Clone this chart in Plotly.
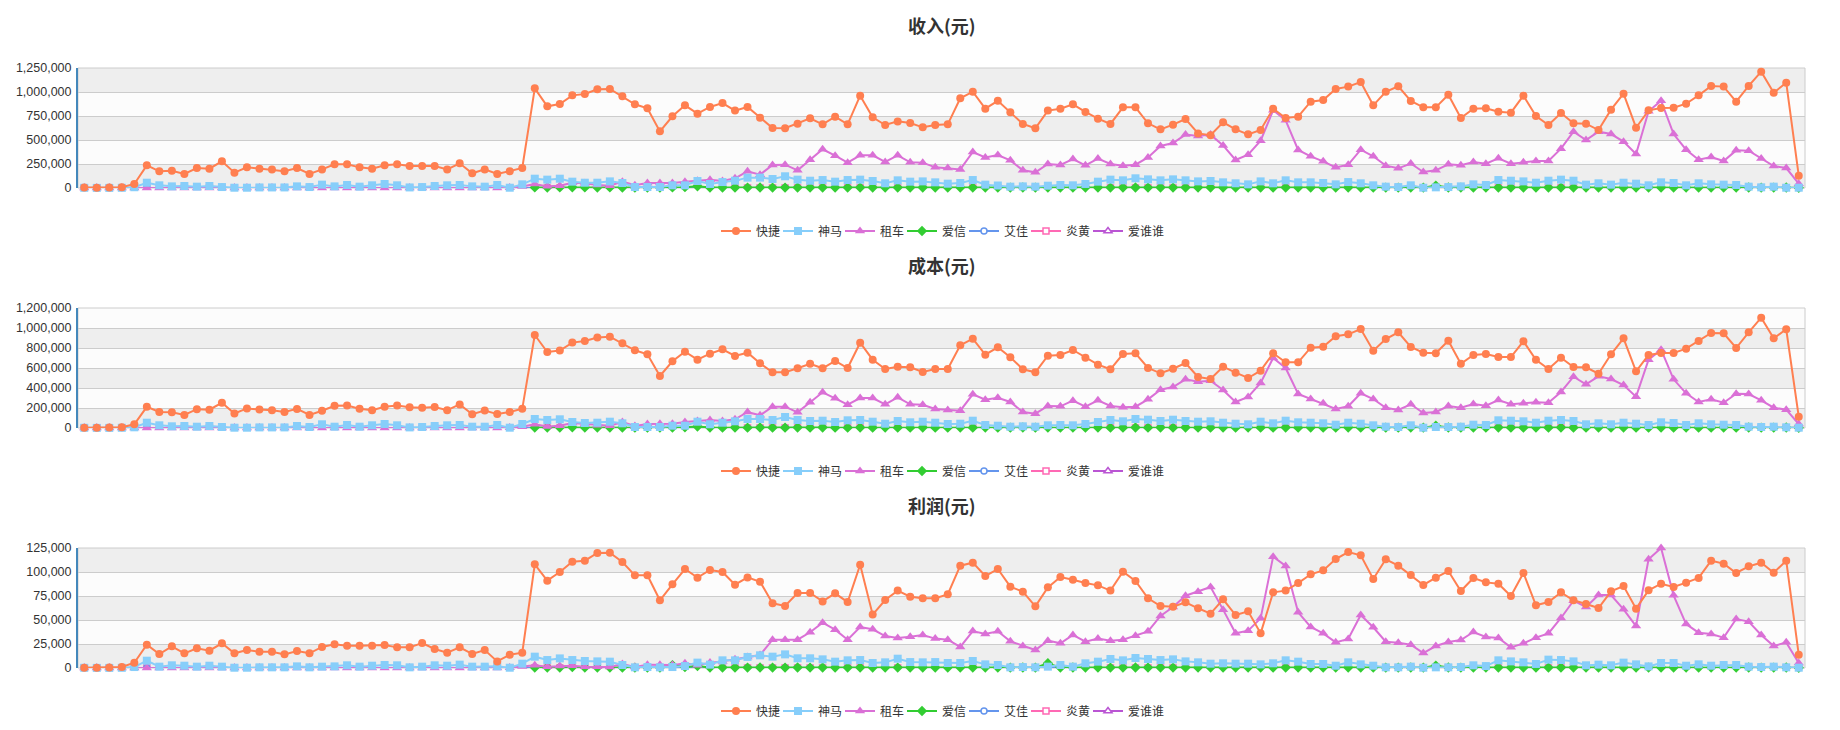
import plotly.graph_objects as go

# ---------------- data ----------------
series_names = ["快捷", "神马", "租车", "爱信", "艾佳", "炎黄", "爱谁谁"]
chart_titles = ["收入(元)", "成本(元)", "利润(元)"]

# 收入
rev_kuaijie = [
    5000, 3000, 4000, 8000, 42000, 236000, 174000, 180000, 146000, 208000,
    201000, 278000, 160000, 215000, 201000, 194000, 174000, 208000, 146000, 194000,
    247000, 247000, 215000, 201000, 236000, 247000, 229000, 229000, 229000, 194000,
    257000, 153000, 194000, 146000, 174000, 208000, 1038000, 851000, 875000, 965000,
    979000, 1028000, 1031000, 955000, 872000, 830000, 590000, 747000, 861000, 774000,
    844000, 885000, 806000, 844000, 733000, 625000, 622000, 670000, 726000, 663000,
    743000, 663000, 962000, 736000, 656000, 694000, 677000, 632000, 656000, 663000,
    934000, 1003000, 826000, 908000, 788000, 667000, 622000, 806000, 826000, 872000,
    792000, 722000, 667000, 840000, 840000, 674000, 611000, 660000, 719000, 569000,
    549000, 684000, 611000, 559000, 604000, 826000, 729000, 743000, 899000, 917000,
    1031000, 1056000, 1104000, 861000, 1003000, 1060000, 907000, 840000, 840000, 972000,
    729000, 826000, 830000, 795000, 785000, 962000, 750000, 656000, 781000, 674000,
    670000, 604000, 816000, 983000, 628000, 809000, 833000, 837000, 878000, 965000,
    1063000, 1056000, 899000, 1063000, 1212000, 993000, 1097000, 128000,
]
rev_shenma = [
    2000, 1000, 1000, 2000, 8000, 55000, 28000, 17000, 21000, 14000,
    21000, 10000, 3000, 3000, 6000, 6000, 6000, 17000, 10000, 35000,
    17000, 31000, 14000, 28000, 42000, 28000, 6000, 10000, 21000, 28000,
    31000, 17000, 14000, 31000, 3000, 38000, 97000, 87000, 97000, 66000,
    55000, 55000, 69000, 52000, 10000, 10000, 10000, 28000, 28000, 73000,
    42000, 62000, 76000, 108000, 108000, 94000, 122000, 87000, 76000, 83000,
    66000, 83000, 87000, 73000, 49000, 80000, 66000, 69000, 59000, 45000,
    52000, 83000, 35000, 26000, 14000, 17000, 14000, 24000, 31000, 28000,
    42000, 66000, 87000, 80000, 101000, 90000, 80000, 90000, 80000, 69000,
    73000, 59000, 49000, 38000, 69000, 49000, 80000, 59000, 59000, 52000,
    38000, 62000, 49000, 28000, 14000, 10000, 28000, 3000, 7000, 10000,
    17000, 38000, 31000, 83000, 76000, 69000, 55000, 76000, 87000, 76000,
    35000, 49000, 35000, 55000, 45000, 28000, 59000, 52000, 28000, 49000,
    38000, 35000, 31000, 14000, 7000, 14000, 3000, 3000,
]
rev_zuche = [
    0, 0, 0, 0, 0, 0, 0, 0, 0, 0,
    0, 0, 0, 0, 0, 0, 0, 0, 0, 0,
    0, 0, 0, 0, 0, 0, 0, 0, 0, 0,
    0, 0, 0, 0, 3000, 15000, 42000, 17000, 24000, 55000,
    49000, 30000, 24000, 66000, 28000, 52000, 52000, 52000, 66000, 76000,
    87000, 73000, 101000, 174000, 139000, 240000, 243000, 184000, 295000, 403000,
    337000, 264000, 340000, 340000, 271000, 340000, 267000, 264000, 215000, 208000,
    194000, 375000, 319000, 344000, 288000, 184000, 163000, 250000, 240000, 302000,
    236000, 306000, 250000, 233000, 243000, 319000, 438000, 469000, 556000, 542000,
    556000, 444000, 292000, 347000, 493000, 809000, 705000, 396000, 330000, 278000,
    215000, 243000, 399000, 330000, 233000, 205000, 255000, 167000, 184000, 247000,
    236000, 271000, 253000, 309000, 253000, 267000, 281000, 281000, 410000, 587000,
    500000, 587000, 562000, 483000, 354000, 799000, 910000, 562000, 399000, 295000,
    323000, 281000, 392000, 389000, 306000, 229000, 208000, 45000,
]
rev_aixin = [
    None, None, None, None, None, None, None, None, None, None,
    None, None, None, None, None, None, None, None, None, None,
    None, None, None, None, None, None, None, None, None, None,
    None, None, None, None, None, None, 6000, 5000, 6000, 8000,
    6000, 5000, 6000, 5000, 4000, 4000, 5000, 6000, 9000, 17000,
    5000, 4000, 5000, 4000, 5000, 4000, 4000, 5000, 4000, 5000,
    4000, 4000, 5000, 4000, 5000, 4000, 4000, 5000, 4000, 4000,
    5000, 4000, 5000, 4000, 4000, 5000, 4000, 5000, 4000, 5000,
    4000, 5000, 4000, 4000, 5000, 4000, 5000, 4000, 5000, 4000,
    4000, 5000, 4000, 5000, 4000, 4000, 5000, 4000, 5000, 4000,
    4000, 5000, 4000, 5000, 4000, 4000, 5000, 4000, 25000, 5000,
    4000, 5000, 4000, 5000, 4000, 4000, 5000, 4000, 5000, 4000,
    4000, 5000, 4000, 5000, 4000, 4000, 5000, 4000, 5000, 4000,
    4000, 5000, 4000, 5000, 4000, 4000, 5000, 2000,
]

# 成本
cost_kuaijie = [
    3000, 2000, 4000, 7000, 37000, 212000, 160000, 158000, 131000, 188000,
    183000, 252000, 145000, 196000, 184000, 177000, 160000, 191000, 131000, 172000,
    222000, 224000, 192000, 178000, 212000, 226000, 208000, 203000, 209000, 178000,
    236000, 138000, 175000, 139000, 160000, 192000, 930000, 760000, 775000, 854000,
    870000, 905000, 913000, 847000, 777000, 737000, 520000, 667000, 763000, 683000,
    743000, 787000, 720000, 753000, 647000, 557000, 557000, 597000, 643000, 597000,
    670000, 600000, 853000, 683000, 590000, 613000, 607000, 560000, 590000, 590000,
    827000, 893000, 733000, 807000, 707000, 587000, 557000, 723000, 730000, 780000,
    703000, 633000, 587000, 740000, 747000, 600000, 547000, 593000, 650000, 510000,
    490000, 613000, 553000, 500000, 573000, 747000, 657000, 657000, 803000, 813000,
    917000, 937000, 990000, 773000, 890000, 957000, 810000, 753000, 747000, 873000,
    643000, 730000, 740000, 710000, 710000, 867000, 683000, 590000, 703000, 610000,
    607000, 543000, 737000, 897000, 567000, 730000, 750000, 750000, 793000, 870000,
    950000, 947000, 800000, 957000, 1103000, 897000, 987000, 113000,
]
cost_shenma = [
    2000, 1000, 1000, 2000, 7000, 53000, 27000, 17000, 20000, 13000,
    20000, 10000, 3000, 3000, 6000, 6000, 6000, 20000, 10000, 37000,
    13000, 30000, 13000, 27000, 40000, 27000, 6000, 10000, 20000, 27000,
    30000, 13000, 13000, 30000, 3000, 40000, 90000, 80000, 87000, 60000,
    50000, 53000, 63000, 47000, 10000, 10000, 10000, 23000, 23000, 63000,
    37000, 53000, 67000, 90000, 90000, 80000, 110000, 80000, 70000, 73000,
    60000, 77000, 80000, 63000, 43000, 70000, 57000, 63000, 53000, 40000,
    43000, 73000, 30000, 23000, 13000, 17000, 13000, 27000, 30000, 27000,
    40000, 60000, 80000, 67000, 90000, 83000, 70000, 83000, 70000, 63000,
    67000, 53000, 43000, 37000, 63000, 47000, 73000, 57000, 53000, 47000,
    33000, 53000, 43000, 27000, 13000, 10000, 27000, 3000, 10000, 10000,
    13000, 33000, 30000, 77000, 73000, 67000, 53000, 73000, 80000, 70000,
    37000, 47000, 37000, 53000, 43000, 30000, 57000, 50000, 30000, 47000,
    37000, 33000, 30000, 13000, 10000, 13000, 7000, 3000,
]
cost_zuche = [
    0, 0, 0, 0, 0, 0, 0, 0, 0, 0,
    0, 0, 0, 0, 0, 0, 0, 0, 0, 0,
    0, 0, 0, 0, 0, 0, 0, 0, 0, 0,
    0, 0, 0, 0, 3000, 13000, 38000, 15000, 22000, 50000,
    40000, 27000, 23000, 60000, 20000, 40000, 43000, 43000, 60000, 70000,
    80000, 70000, 87000, 160000, 127000, 213000, 213000, 157000, 257000, 357000,
    297000, 233000, 300000, 300000, 237000, 307000, 237000, 233000, 190000, 180000,
    173000, 337000, 283000, 303000, 260000, 160000, 143000, 220000, 217000, 273000,
    213000, 277000, 220000, 207000, 213000, 287000, 383000, 410000, 487000, 463000,
    473000, 380000, 260000, 310000, 450000, 700000, 600000, 340000, 290000, 247000,
    190000, 217000, 347000, 290000, 203000, 180000, 237000, 150000, 160000, 220000,
    203000, 240000, 223000, 280000, 237000, 247000, 257000, 253000, 360000, 513000,
    437000, 517000, 490000, 430000, 313000, 683000, 783000, 487000, 347000, 260000,
    287000, 253000, 343000, 340000, 277000, 203000, 183000, 40000,
]
cost_aixin = [
    None, None, None, None, None, None, None, None, None, None,
    None, None, None, None, None, None, None, None, None, None,
    None, None, None, None, None, None, None, None, None, None,
    None, None, None, None, None, None, 5500, 4500, 5500, 7000,
    5500, 4500, 5500, 4500, 3600, 3600, 4500, 5500, 8000, 15000,
    4500, 3600, 4500, 3600, 4500, 3600, 3600, 4500, 3600, 4500,
    3600, 3600, 4500, 3600, 4500, 3600, 3600, 4500, 3600, 3600,
    4500, 3600, 4500, 3600, 3600, 4500, 3600, 4500, 3600, 4500,
    3600, 4500, 3600, 3600, 4500, 3600, 4500, 3600, 4500, 3600,
    3600, 4500, 3600, 4500, 3600, 3600, 4500, 3600, 4500, 3600,
    3600, 4500, 3600, 4500, 3600, 3600, 4500, 3600, 22000, 4500,
    3600, 4500, 3600, 4500, 3600, 3600, 4500, 3600, 4500, 3600,
    3600, 4500, 3600, 4500, 3600, 3600, 4500, 3600, 4500, 3600,
    3600, 4500, 3600, 4500, 3600, 3600, 4500, 1800,
]

# 利润
profit_kuaijie = [
    300, 300, 500, 1000, 5500, 24300, 14600, 22600, 15300, 20500,
    18000, 25700, 15300, 18700, 17000, 17000, 14200, 17700, 15300, 21900,
    24700, 23300, 23300, 23300, 24000, 21500, 21500, 26000, 19800, 16000,
    21500, 14600, 18700, 6900, 13900, 16000, 108000, 91000, 100000, 110800,
    111800, 119800, 120100, 110400, 96500, 96500, 70500, 87200, 103100, 94100,
    102100, 100000, 86800, 94400, 89900, 67400, 64600, 78100, 78100, 69400,
    77800, 68700, 107600, 55600, 70800, 80600, 74300, 72600, 72600, 76700,
    106600, 109700, 95800, 103100, 84700, 79500, 64200, 84000, 94800, 92000,
    88500, 86100, 80600, 100300, 90600, 72600, 64600, 63900, 68400, 62200,
    56600, 71500, 55200, 59000, 36100, 78800, 80600, 88500, 97600, 101700,
    113500, 120800, 117400, 92700, 113200, 106600, 96900, 86500, 94100, 101000,
    80200, 93800, 89200, 87800, 75000, 99000, 65300, 68700, 78800, 70500,
    66700, 62500, 79900, 85400, 61800, 80900, 87800, 84400, 88900, 93800,
    111800, 108700, 99000, 105900, 109700, 99300, 111800, 13900,
]
profit_shenma = [
    200, 100, 100, 200, 1000, 7600, 1400, 2800, 2400, 1400,
    2400, 1400, 300, 300, 700, 700, 700, 1700, 700, 1400,
    1700, 2800, 1400, 2400, 3100, 2800, 700, 1400, 2800, 2400,
    3500, 1400, 1400, 1700, 300, 4500, 11800, 8300, 10000, 8300,
    7300, 6900, 6600, 3100, 700, 1000, 700, 1000, 2000, 5600,
    3500, 8000, 8000, 11500, 13200, 11800, 14200, 10100, 10100, 9000,
    6600, 8000, 8300, 5200, 5900, 9700, 6200, 5900, 6200, 5200,
    5200, 7300, 3800, 3100, 700, 1000, 700, 1400, 3100, 1400,
    4900, 6600, 9400, 8000, 10400, 9400, 8300, 9000, 6900, 5900,
    4500, 4900, 4500, 4500, 3800, 4900, 8000, 6600, 4200, 4200,
    2400, 5900, 3800, 2400, 700, 700, 1400, 300, 700, 700,
    1000, 2800, 2000, 8000, 6900, 5900, 4200, 8700, 8300, 6900,
    2800, 3500, 2800, 5600, 3800, 1700, 5200, 5200, 2400, 3800,
    2400, 3100, 3100, 1400, 1000, 1400, 700, 300,
]
profit_zuche = [
    0, 0, 0, 0, 0, 0, 0, 0, 0, 0,
    0, 0, 0, 0, 0, 0, 0, 0, 0, 0,
    0, 0, 0, 0, 0, 0, 0, 0, 0, 0,
    0, 0, 0, 0, 200, 1500, 2800, 1400, 2000, 2400,
    1400, 1400, 1000, 4200, 1000, 3500, 3500, 3000, 4900, 2800,
    5600, 6900, 9000, 11500, 13500, 29500, 29500, 29500, 37200, 47200,
    39900, 29500, 42700, 40300, 33300, 31200, 32600, 34400, 30600, 29500,
    21900, 38500, 35400, 38200, 27800, 22900, 18700, 28500, 25700, 34400,
    27400, 30600, 28500, 29500, 33700, 38200, 54200, 63500, 75300, 79500,
    84400, 60800, 36100, 38900, 51700, 116000, 106300, 58000, 42700, 36100,
    26700, 30200, 55200, 42400, 27400, 26400, 24300, 15600, 22900, 27100,
    29200, 37500, 32300, 31200, 21500, 25700, 31600, 36100, 52100, 70100,
    63500, 76000, 76000, 61100, 43700, 113200, 125000, 75700, 45800, 36800,
    35400, 31600, 51000, 48300, 34400, 22900, 26700, 5200,
]
profit_aixin = [
    None, None, None, None, None, None, None, None, None, None,
    None, None, None, None, None, None, None, None, None, None,
    None, None, None, None, None, None, None, None, None, None,
    None, None, None, None, None, None, 500, 500, 500, 1000,
    500, 500, 500, 500, 400, 400, 500, 3000, 1000, 2000,
    500, 400, 500, 400, 500, 400, 400, 500, 400, 500,
    400, 400, 500, 400, 500, 400, 400, 500, 400, 400,
    500, 400, 500, 400, 400, 500, 400, 5000, 400, 500,
    400, 500, 400, 400, 500, 400, 500, 400, 500, 400,
    400, 500, 400, 500, 400, 400, 500, 400, 500, 400,
    400, 500, 400, 500, 400, 400, 500, 400, 2500, 500,
    400, 500, 400, 500, 400, 400, 500, 400, 500, 400,
    400, 500, 400, 500, 400, 400, 500, 400, 500, 400,
    400, 500, 400, 500, 400, 400, 500, 200,
]
# 艾佳 / 炎黄 / 爱谁谁 stay at zero for the whole period
zero_series = [
    0, 0, 0, 0, 0, 0, 0, 0, 0, 0, 0, 0, 0, 0, 0, 0, 0, 0, 0, 0,
    0, 0, 0, 0, 0, 0, 0, 0, 0, 0, 0, 0, 0, 0, 0, 0, 0, 0, 0, 0,
    0, 0, 0, 0, 0, 0, 0, 0, 0, 0, 0, 0, 0, 0, 0, 0, 0, 0, 0, 0,
    0, 0, 0, 0, 0, 0, 0, 0, 0, 0, 0, 0, 0, 0, 0, 0, 0, 0, 0, 0,
    0, 0, 0, 0, 0, 0, 0, 0, 0, 0, 0, 0, 0, 0, 0, 0, 0, 0, 0, 0,
    0, 0, 0, 0, 0, 0, 0, 0, 0, 0, 0, 0, 0, 0, 0, 0, 0, 0, 0, 0,
    0, 0, 0, 0, 0, 0, 0, 0, 0, 0, 0, 0, 0, 0, 0, 0, 0, 0,
]

y_max = [1250000, 1200000, 125000]
y_step = [250000, 200000, 25000]

charts = [
    [rev_kuaijie, rev_shenma, rev_zuche, rev_aixin, zero_series, zero_series, zero_series],
    [cost_kuaijie, cost_shenma, cost_zuche, cost_aixin, zero_series, zero_series, zero_series],
    [profit_kuaijie, profit_shenma, profit_zuche, profit_aixin, zero_series, zero_series, zero_series],
]

# ---------------- styling ----------------
W, H = 1840, 730
colors = ["#ff7f50", "#87cefa", "#da70d6", "#32cd32", "#6495ed", "#ff69b4", "#ba55d3"]
symbols = ["circle", "square", "triangle-up", "diamond", "circle", "square", "triangle-up"]
filled = [True, True, True, True, False, False, False]
sizes = [8, 8, 9, 8, 6, 6, 7]
legend_widths = [17, 17, 17, 17, 17, 17, 40]
FONT = "Microsoft YaHei, Noto Sans CJK SC, sans-serif"
TICKFONT = "Arial, Liberation Sans, sans-serif"

plot_left, plot_right = 78, 1805
plot_tops = [68, 308, 548]
plot_h = 120
title_y = [25, 265, 505]
legend_y = [231, 471, 711]
legend_left = 716

fig = go.Figure()
layout = dict(
    width=W, height=H, margin=dict(l=0, r=0, t=0, b=0, pad=0, autoexpand=False),
    paper_bgcolor="white", plot_bgcolor="rgba(0,0,0,0)",
    font=dict(family=FONT, size=12, color="#333"),
    showlegend=True, shapes=[], annotations=[],
)

for c in range(3):
    suf = "" if c == 0 else str(c + 1)
    xa, ya = "x" + suf, "y" + suf
    leg = "legend" + suf
    n = len(charts[c][0])
    x = list(range(n))
    # draw the last series first so the first one ends on top
    for s in reversed(range(7)):
        vals = charts[c][s]
        mk = dict(symbol=symbols[s], size=sizes[s],
                  color=colors[s] if filled[s] else "#ffffff",
                  line=dict(color=colors[s], width=0 if filled[s] else 1.5))
        fig.add_trace(go.Scatter(
            x=x, y=vals, name=series_names[s], mode="lines+markers",
            line=dict(color=colors[s], width=2), marker=mk,
            xaxis=xa, yaxis=ya, legend=leg, legendrank=s + 1,
            legendwidth=legend_widths[s],
            cliponaxis=(not filled[s]), hoverinfo="x+y+name",
        ))
    top, bot = plot_tops[c], plot_tops[c] + plot_h
    layout["xaxis" + suf] = dict(
        domain=[plot_left / W, plot_right / W], anchor=ya,
        range=[-0.5, n - 0.5], showticklabels=False, showgrid=False,
        zeroline=False, showline=False, ticks="", fixedrange=True,
    )
    layout["yaxis" + suf] = dict(
        domain=[1 - bot / H, 1 - top / H], anchor=xa,
        range=[0, y_max[c]], dtick=y_step[c], tick0=0, tickformat=",d",
        showgrid=True, gridcolor="#cccccc", gridwidth=1, zeroline=False,
        showline=True, linecolor="#4488bb", linewidth=2, ticks="",
        ticklabelstandoff=2, tickfont=dict(size=12.5, color="#333", family=TICKFONT),
    )
    nb = int(round(y_max[c] / y_step[c]))
    for k in range(nb):
        layout["shapes"].append(dict(
            type="rect", xref=xa + " domain", yref=ya, x0=0, x1=1,
            y0=k * y_step[c], y1=(k + 1) * y_step[c],
            fillcolor="#eeeeee" if k % 2 == 0 else "#fcfcfc",
            line=dict(width=0), layer="below",
        ))
    layout["shapes"].append(dict(
        type="rect", xref=xa + " domain", yref=ya + " domain", x0=0, x1=1, y0=0, y1=1,
        line=dict(color="#cccccc", width=1), fillcolor="rgba(0,0,0,0)", layer="below",
    ))
    layout["annotations"].append(dict(
        text="<b>" + chart_titles[c] + "</b>", xref="paper", yref="paper",
        x=(plot_left + plot_right) / 2 / W, y=1 - title_y[c] / H,
        xanchor="center", yanchor="middle", showarrow=False,
        font=dict(size=18, color="#333", family=FONT),
    ))
    layout[leg] = dict(
        orientation="h", x=legend_left / W, xanchor="left",
        y=1 - legend_y[c] / H, yanchor="middle", bgcolor="rgba(0,0,0,0)",
        font=dict(size=12, color="#333", family=FONT), itemwidth=30,
        entrywidthmode="pixels", traceorder="normal",
    )

fig.update_layout(**layout)
fig.write_html("out.html", config={"displayModeBar": False},
               post_script="document.body.style.margin='0px';")
